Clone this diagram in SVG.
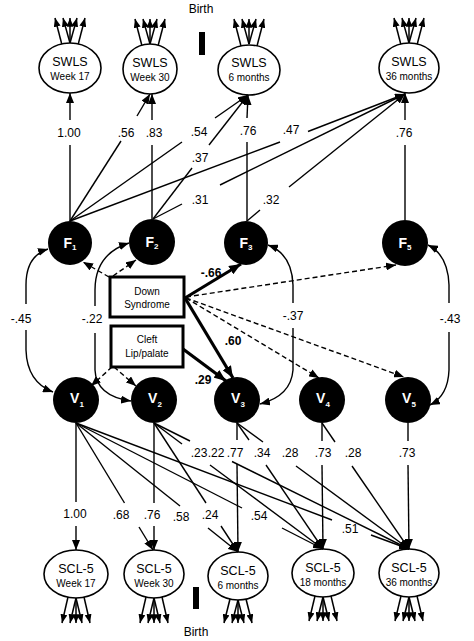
<svg xmlns="http://www.w3.org/2000/svg" width="474" height="641" viewBox="0 0 474 641">
<style>
.ell{fill:#fff;stroke:#000;stroke-width:1.6}
.circ{fill:#000}
.box{fill:#fff;stroke:#000;stroke-width:3}
.t1{font-family:"Liberation Sans",Arial,sans-serif;font-size:12.5px;text-anchor:middle;fill:#000}
.t2{font-family:"Liberation Sans",Arial,sans-serif;font-size:10px;text-anchor:middle;fill:#000}
.fl{font-family:"Liberation Sans",Arial,sans-serif;font-size:14px;font-weight:bold;text-anchor:middle;fill:#fff}
.sub{font-size:8px}
.lab{font-family:"Liberation Sans",Arial,sans-serif;font-size:12px;text-anchor:middle;fill:#000}
.bl{font-weight:bold}
.ln{stroke:#000;stroke-width:1.4;fill:none}
.ln2{stroke:#000;stroke-width:1.4;fill:none;marker-end:url(#a)}
.fan line{stroke:#000;stroke-width:1.5;marker-end:url(#f)}
.th{stroke:#000;stroke-width:3.2;fill:none;marker-end:url(#tb)}
.ds{stroke:#000;stroke-width:1.4;fill:none;stroke-dasharray:5,3;marker-end:url(#a)}
</style>
<defs>
<marker id="a" viewBox="0 0 10 8" refX="10" refY="4" markerWidth="10" markerHeight="8" markerUnits="userSpaceOnUse" orient="auto"><path d="M0,0L10,4L0,8z" fill="#000"/></marker>
<marker id="f" viewBox="0 0 10 8" refX="10" refY="4" markerWidth="9" markerHeight="7" markerUnits="userSpaceOnUse" orient="auto"><path d="M0,0L10,4L0,8z" fill="#000"/></marker>
<marker id="tb" viewBox="0 0 10 8" refX="10" refY="4" markerWidth="12" markerHeight="10" markerUnits="userSpaceOnUse" orient="auto"><path d="M0,0L10,4L0,8z" fill="#000"/></marker>
</defs>

<g id="birth-top">
<text class="t1" x="201" y="13" style="font-size:12px">Birth</text>
<rect x="199" y="32" width="6" height="23" fill="#000"/>
</g>
<g id="birth-bottom">
<rect x="193" y="587" width="6" height="22" fill="#000"/>
<text class="t1" x="196" y="636" style="font-size:12px">Birth</text>
</g>

<g id="swls17">
<g class="fan"><line x1="62" y1="45" x2="55" y2="18"/><line x1="70" y1="43" x2="63" y2="18"/><line x1="70" y1="43" x2="70" y2="18"/><line x1="70" y1="43" x2="77" y2="18"/><line x1="78" y1="45" x2="85" y2="18"/></g>
<ellipse class="ell" cx="70" cy="68" rx="31" ry="25"/>
<text class="t1" x="70" y="66">SWLS</text><text class="t2" x="70" y="80">Week 17</text>
</g>
<g id="swls30">
<g class="fan"><line x1="142" y1="46" x2="135" y2="19"/><line x1="150" y1="44" x2="143" y2="19"/><line x1="150" y1="44" x2="150" y2="19"/><line x1="150" y1="44" x2="157" y2="19"/><line x1="158" y1="46" x2="165" y2="19"/></g>
<ellipse class="ell" cx="150" cy="69" rx="27" ry="25"/>
<text class="t1" x="150" y="67">SWLS</text><text class="t2" x="150" y="81">Week 30</text>
</g>
<g id="swls6">
<g class="fan"><line x1="241" y1="46" x2="234" y2="19"/><line x1="249" y1="44" x2="242" y2="19"/><line x1="249" y1="44" x2="249" y2="19"/><line x1="249" y1="44" x2="256" y2="19"/><line x1="257" y1="46" x2="264" y2="19"/></g>
<ellipse class="ell" cx="249" cy="70" rx="31" ry="25"/>
<text class="t1" x="249" y="67">SWLS</text><text class="t2" x="249" y="81">6 months</text>
</g>
<g id="swls36">
<g class="fan"><line x1="401" y1="45" x2="394" y2="18"/><line x1="409" y1="43" x2="402" y2="18"/><line x1="409" y1="43" x2="409" y2="18"/><line x1="409" y1="43" x2="416" y2="18"/><line x1="417" y1="45" x2="424" y2="18"/></g>
<ellipse class="ell" cx="409" cy="68" rx="30" ry="25"/>
<text class="t1" x="409" y="66">SWLS</text><text class="t2" x="409" y="80">36 months</text>
</g>

<g id="scl17">
<g class="fan"><line x1="68" y1="597" x2="62" y2="623"/><line x1="76" y1="598" x2="70" y2="623"/><line x1="76" y1="598" x2="76" y2="623"/><line x1="76" y1="598" x2="82" y2="623"/><line x1="84" y1="597" x2="90" y2="623"/></g>
<ellipse class="ell" cx="76" cy="574" rx="32" ry="24"/>
<text class="t1" x="76" y="573">SCL-5</text><text class="t2" x="76" y="587">Week 17</text>
</g>
<g id="scl30">
<g class="fan"><line x1="146" y1="597" x2="140" y2="623"/><line x1="154" y1="598" x2="148" y2="623"/><line x1="154" y1="598" x2="154" y2="623"/><line x1="154" y1="598" x2="160" y2="623"/><line x1="162" y1="597" x2="168" y2="623"/></g>
<ellipse class="ell" cx="154" cy="574" rx="30" ry="24"/>
<text class="t1" x="154" y="573">SCL-5</text><text class="t2" x="154" y="587">Week 30</text>
</g>
<g id="scl6">
<g class="fan"><line x1="230" y1="599" x2="224" y2="623"/><line x1="238" y1="600" x2="232" y2="623"/><line x1="238" y1="600" x2="238" y2="623"/><line x1="238" y1="600" x2="244" y2="623"/><line x1="246" y1="599" x2="252" y2="623"/></g>
<ellipse class="ell" cx="238" cy="576" rx="30" ry="24"/>
<text class="t1" x="238" y="575">SCL-5</text><text class="t2" x="238" y="589">6 months</text>
</g>
<g id="scl18">
<g class="fan"><line x1="315" y1="596" x2="309" y2="621"/><line x1="323" y1="597" x2="317" y2="621"/><line x1="323" y1="597" x2="323" y2="621"/><line x1="323" y1="597" x2="329" y2="621"/><line x1="331" y1="596" x2="337" y2="621"/></g>
<ellipse class="ell" cx="323" cy="573" rx="31" ry="24"/>
<text class="t1" x="323" y="572">SCL-5</text><text class="t2" x="323" y="586">18 months</text>
</g>
<g id="scl36">
<g class="fan"><line x1="401" y1="596" x2="395" y2="621"/><line x1="409" y1="597" x2="403" y2="621"/><line x1="409" y1="597" x2="409" y2="621"/><line x1="409" y1="597" x2="415" y2="621"/><line x1="417" y1="596" x2="423" y2="621"/></g>
<ellipse class="ell" cx="409" cy="573" rx="30" ry="24"/>
<text class="t1" x="409" y="572">SCL-5</text><text class="t2" x="409" y="586">36 months</text>
</g>

<g id="F1"><circle class="circ" cx="70" cy="243" r="22"/><text class="fl" x="70" y="248">F<tspan class="sub" dy="2">1</tspan></text></g>
<g id="F2"><circle class="circ" cx="152" cy="242" r="23"/><text class="fl" x="152" y="247">F<tspan class="sub" dy="2">2</tspan></text></g>
<g id="F3"><circle class="circ" cx="246" cy="243" r="22"/><text class="fl" x="246" y="248">F<tspan class="sub" dy="2">3</tspan></text></g>
<g id="F5"><circle class="circ" cx="405" cy="243" r="23"/><text class="fl" x="405" y="248">F<tspan class="sub" dy="2">5</tspan></text></g>

<g id="V1"><circle class="circ" cx="76" cy="400" r="23"/><text class="fl" x="77" y="403">V<tspan class="sub" dy="4">1</tspan></text></g>
<g id="V2"><circle class="circ" cx="154" cy="400" r="23"/><text class="fl" x="155" y="403">V<tspan class="sub" dy="4">2</tspan></text></g>
<g id="V3"><circle class="circ" cx="237" cy="400" r="23"/><text class="fl" x="238" y="403">V<tspan class="sub" dy="4">3</tspan></text></g>
<g id="V4"><circle class="circ" cx="322" cy="400" r="23"/><text class="fl" x="323" y="403">V<tspan class="sub" dy="4">4</tspan></text></g>
<g id="V5"><circle class="circ" cx="408" cy="400" r="23"/><text class="fl" x="409" y="403">V<tspan class="sub" dy="4">5</tspan></text></g>

<g id="down"><rect class="box" x="110" y="277" width="74" height="40"/><text class="t2" x="147" y="295">Down</text><text class="t2" x="147" y="308">Syndrome</text></g>
<g id="cleft"><rect class="box" x="111" y="326" width="72" height="41"/><text class="t2" x="147" y="343">Cleft</text><text class="t2" x="147" y="357">Lip/palate</text></g>

<g id="connectors">
<path class="ln" d="M70,221L70,145"/><path class="ln2" d="M70,120L70,93"/>
<path class="ln" d="M70,221L121,141"/><path class="ln2" d="M137,116L150,94"/>
<path class="ln" d="M70,221L182,142"/><path class="ln2" d="M215,118L248,95"/>
<path class="ln" d="M70,221L280,142"/><path class="ln2" d="M308,131.5L405,94"/>
<path class="ln" d="M152,219L152,145"/><path class="ln2" d="M152,120L152,94"/>
<path class="ln" d="M153,219L192,168"/><path class="ln2" d="M209,145L248,95"/>
<path class="ln" d="M153,219L182,204"/><path class="ln2" d="M220,185L405,94"/>
<path class="ln" d="M247,221L247,142"/><path class="ln2" d="M247,118L248,95"/>
<path class="ln" d="M247,221L260,210"/><path class="ln2" d="M289,187L405,94"/>
<path class="ln" d="M405,220L405,145"/><path class="ln2" d="M405,120L405,93"/>

<path class="ln" d="M76,423L76,502"/><path class="ln2" d="M76,526L76,550"/>
<path class="ln" d="M76,423L124.5,503"/><path class="ln2" d="M139,527L153,550"/>
<path class="ln" d="M76,423L180,506"/><path class="ln2" d="M208,528L238,552"/>
<path class="ln" d="M76,423L242,508"/><path class="ln2" d="M282,528L323,549"/>
<path class="ln" d="M76,423L332,520"/><path class="ln2" d="M371,535L409,549"/>
<path class="ln" d="M154,423L154,503"/><path class="ln2" d="M154,526L154,550"/>
<path class="ln" d="M154,423L206,503"/><path class="ln2" d="M221,526L238,552"/>
<path class="ln" d="M154,423L182,444"/><path class="ln2" d="M210,465L323,549"/>
<path class="ln" d="M154,423L190,441"/><path class="ln2" d="M232,461.5L409,549"/>
<path class="ln" d="M237,423L237,440"/><path class="ln2" d="M237,464L238,552"/>
<path class="ln" d="M237,423L249,440"/><path class="ln2" d="M266,465L323,549"/>
<path class="ln" d="M237,423L263,442"/><path class="ln2" d="M296,466L409,549"/>
<path class="ln" d="M322,423L322,441"/><path class="ln2" d="M322,465L323,549"/>
<path class="ln" d="M322,423L335,442"/><path class="ln2" d="M352,466L409,549"/>
<path class="ln" d="M408,423L408,441"/><path class="ln2" d="M408,465L409,549"/>

<path class="ln2" d="M26,304L26,285Q26,256 48,249"/><path class="ln2" d="M26,330L26,350Q27,382 53,392"/>
<path class="ln2" d="M95,306L95,290Q95,254 129,243"/><path class="ln2" d="M95,333L95,370Q96,396 131,401"/>
<path class="ln2" d="M293,303L293,285Q292,254 268,245"/><path class="ln2" d="M293,328L293,370Q291,396 260,404"/>
<path class="ln2" d="M449,303L449,285Q448,255 428,245"/><path class="ln2" d="M449,332L449,370Q448,396 430,405"/>

<path class="ds" d="M109,277L83,262"/>
<path class="ds" d="M113,276L136,260"/>
<path class="ds" d="M112,367L91,386"/>
<path class="ds" d="M114,367L136,386"/>
<path class="th" d="M185,298L241,264"/>
<path class="th" d="M185,298L233,378"/>
<path class="th" d="M183,349L226,381"/>
<path class="ds" d="M186,297L396,265"/>
<path class="ds" d="M186,298L319,378"/>
<path class="ds" d="M186,298L404,377"/>
</g>

<g id="labels">
<text class="lab" x="69" y="137">1.00</text>
<text class="lab" x="126" y="137">.56</text>
<text class="lab" x="154" y="137">.83</text>
<text class="lab" x="199" y="136">.54</text>
<text class="lab" x="200" y="162">.37</text>
<text class="lab" x="248" y="135">.76</text>
<text class="lab" x="291" y="134">.47</text>
<text class="lab" x="200" y="204">.31</text>
<text class="lab" x="271" y="204">.32</text>
<text class="lab" x="404" y="137">.76</text>
<text class="lab" x="21" y="323">-.45</text>
<text class="lab" x="92" y="323">-.22</text>
<text class="lab" x="293" y="320">-.37</text>
<text class="lab" x="450" y="323">-.43</text>
<text class="lab bl" x="211" y="277">-.66</text>
<text class="lab bl" x="233" y="345">.60</text>
<text class="lab bl" x="203" y="384">.29</text>
<text class="lab" x="199" y="457">.23</text>
<text class="lab" x="216" y="457">.22</text>
<text class="lab" x="235" y="457">.77</text>
<text class="lab" x="262" y="457">.34</text>
<text class="lab" x="290" y="457">.28</text>
<text class="lab" x="323" y="457">.73</text>
<text class="lab" x="353" y="457">.28</text>
<text class="lab" x="407" y="457">.73</text>
<text class="lab" x="75" y="518">1.00</text>
<text class="lab" x="121" y="519">.68</text>
<text class="lab" x="152" y="519">.76</text>
<text class="lab" x="181" y="521">.58</text>
<text class="lab" x="210" y="519">.24</text>
<text class="lab" x="259" y="520">.54</text>
<text class="lab" x="350" y="533">.51</text>
</g>
</svg>
